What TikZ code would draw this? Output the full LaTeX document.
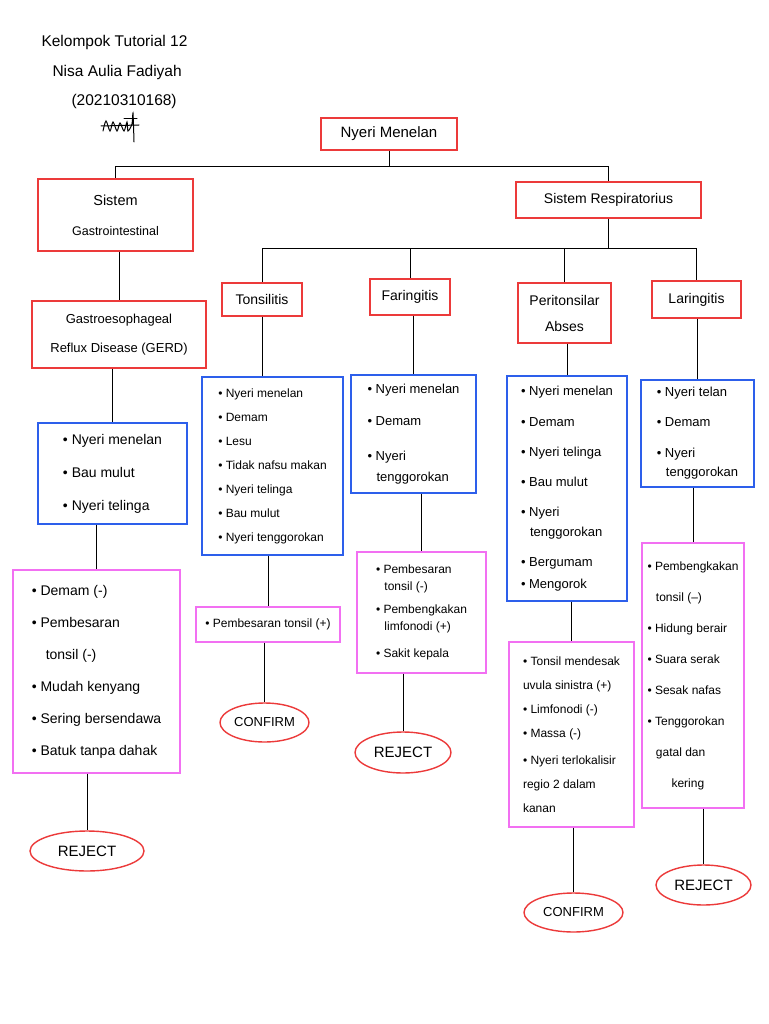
\documentclass[tikz,border=0pt]{standalone}
\usepackage{fontspec}
\setmainfont{Liberation Sans}
\usetikzlibrary{positioning,shapes.geometric}
\definecolor{BoxRed}{RGB}{236,58,58}
\definecolor{BoxBlue}{RGB}{45,95,235}
\definecolor{BoxPink}{RGB}{242,112,242}
\tikzset{
	redbox/.style={draw=BoxRed, line width=1.4pt, align=center, inner sep=1pt},
	bluebox/.style={draw=BoxBlue, line width=1.4pt, align=left, inner sep=1pt},
	pinkbox/.style={draw=BoxPink, line width=1.4pt, align=left, inner sep=1pt},
	endoval/.style={draw=BoxRed, ellipse, line width=1.4pt, inner sep=0pt},
	link/.style={line width=1pt, black},
	header/.style={anchor=west, font=\fontsize{15.5}{18}\selectfont}
}

\begin{document}
\begin{tikzpicture}[x=1pt, y=-1pt]
	\fill[white] (0,0) rectangle (768,1024);
	\useasboundingbox (0,0) rectangle (768,1024);
	
	% kepala halaman
	\node[header] (kel) at (38,42) {Kelompok Tutorial 12};
	\node[header] (nama) at (49,72) {Nisa Aulia Fadiyah};
	\node[header] (nim) at (68,101) {(20210310168)};
	\draw[line width=1pt, line cap=round] plot[smooth] coordinates {(103,131) (106,121) (110,131) (113,122) (117,131) (120,123) (124,131) (127,122) (128,131) (132,124) (133,113) (134,142)};
	\draw[line width=1pt, line cap=round] (101,126) -- (139,125);
	\draw[line width=1pt, line cap=round] (124,119) -- (137,119);
	
	% tingkat atas
	\node[redbox, minimum width=136, minimum height=32, font=\fontsize{15}{16}\selectfont] (nm) at (389,134) {Nyeri Menelan};
	\node[redbox, minimum width=155, minimum height=72, font=\fontsize{14.5}{30}\selectfont] (sg) at (115.5,215) {Sistem\\{\fontsize{12.5}{14}\selectfont Gastrointestinal}};
	\node[redbox, minimum width=185, minimum height=36, font=\fontsize{14}{16}\selectfont] (sr) at (608.5,200) {Sistem Respiratorius};
	
	% penyakit
	\node[redbox, minimum width=174, minimum height=67, font=\fontsize{13}{29}\selectfont] (gerd) at (119,334.5) {Gastroesophageal\\Reflux Disease (GERD)};
	\node[redbox, minimum width=80, minimum height=33, font=\fontsize{14}{16}\selectfont] (ton) at (262,299.5) {Tonsilitis};
	\node[redbox, minimum width=80, minimum height=36, font=\fontsize{14}{16}\selectfont] (far) at (410,297) {Faringitis};
	\node[redbox, minimum width=93, minimum height=60, font=\fontsize{14}{26}\selectfont] (per) at (564.5,313) {Peritonsilar\\Abses};
	\node[redbox, minimum width=89, minimum height=37, font=\fontsize{14}{16}\selectfont] (lar) at (696.5,299.5) {Laringitis};
	
	% gejala
	\node[bluebox, minimum width=149, minimum height=101, font=\fontsize{14}{33}\selectfont] (b1) at (112.5,473.5)
		{\textbullet\ Nyeri menelan\\\textbullet\ Bau mulut\\\textbullet\ Nyeri telinga};
	\node[bluebox, minimum width=141, minimum height=178, font=\fontsize{12}{24}\selectfont] (b2) at (272.5,466)
		{\textbullet\ Nyeri menelan\\\textbullet\ Demam\\\textbullet\ Lesu\\\textbullet\ Tidak nafsu makan\\\textbullet\ Nyeri telinga\\\textbullet\ Bau mulut\\\textbullet\ Nyeri tenggorokan};
	\node[bluebox, minimum width=125, minimum height=118, font=\fontsize{13}{21}\selectfont] (b3) at (413.5,434)
		{\textbullet\ Nyeri menelan\\[11pt]\textbullet\ Demam\\[14pt]\textbullet\ Nyeri\\\hspace*{0.7em}tenggorokan};
	\node[bluebox, minimum width=120, minimum height=225, font=\fontsize{13}{20}\selectfont] (b4) at (567,488.5)
		{\textbullet\ Nyeri menelan\\[11pt]\textbullet\ Demam\\[10pt]\textbullet\ Nyeri telinga\\[10pt]\textbullet\ Bau mulut\\[10pt]\textbullet\ Nyeri\\\hspace*{0.7em}tenggorokan\\[10pt]\textbullet\ Bergumam\\[2pt]\textbullet\ Mengorok};
	\node[bluebox, minimum width=113, minimum height=107, font=\fontsize{13}{19}\selectfont] (b5) at (697.5,433.5)
		{\textbullet\ Nyeri telan\\[11pt]\textbullet\ Demam\\[12pt]\textbullet\ Nyeri\\\hspace*{0.7em}tenggorokan};
	
	% pemeriksaan
	\node[pinkbox, minimum width=167, minimum height=203, font=\fontsize{14}{32}\selectfont] (p1) at (96.5,671.5)
		{\textbullet\ Demam (-)\\\textbullet\ Pembesaran\\\hspace*{1em}tonsil (-)\\\textbullet\ Mudah kenyang\\\textbullet\ Sering bersendawa\\\textbullet\ Batuk tanpa dahak};
	\node[pinkbox, minimum width=144, minimum height=35, font=\fontsize{12}{14}\selectfont] (p2) at (268,624.5)
		{\textbullet\ Pembesaran tonsil (+)};
	\node[pinkbox, minimum width=129, minimum height=121, font=\fontsize{12}{17}\selectfont] (p3) at (421.5,612.5)
		{\textbullet\ Pembesaran\\\hspace*{0.7em}tonsil (-)\\[6pt]\textbullet\ Pembengkakan\\\hspace*{0.7em}limfonodi (+)\\[10pt]\textbullet\ Sakit kepala};
	\node[pinkbox, minimum width=125, minimum height=185, font=\fontsize{12}{24}\selectfont] (p4) at (571.5,734.5)
		{\textbullet\ Tonsil mendesak\\uvula sinistra (+)\\\textbullet\ Limfonodi (-)\\\textbullet\ Massa (-)\\[3pt]\textbullet\ Nyeri terlokalisir\\regio 2 dalam\\kanan};
	\node[pinkbox, minimum width=102, minimum height=265, font=\fontsize{12}{31}\selectfont] (p5) at (693,675.5)
		{\textbullet\ Pembengkakan\\\hspace*{0.7em}tonsil (--)\\\textbullet\ Hidung berair\\\textbullet\ Suara serak\\\textbullet\ Sesak nafas\\\textbullet\ Tenggorokan\\\hspace*{0.7em}gatal dan\\\hspace*{2em}kering};
	
	% hasil
	\node[endoval, minimum width=114, minimum height=40, font=\fontsize{15}{16}\selectfont] (e1) at (87,851) {REJECT};
	\node[endoval, minimum width=89, minimum height=39, font=\fontsize{13}{14}\selectfont] (e2) at (264.5,722.5) {CONFIRM};
	\node[endoval, minimum width=96, minimum height=41, font=\fontsize{15}{16}\selectfont] (e3) at (403,752.5) {REJECT};
	\node[endoval, minimum width=99, minimum height=39, font=\fontsize{13}{14}\selectfont] (e4) at (573.5,912.5) {CONFIRM};
	\node[endoval, minimum width=95, minimum height=40, font=\fontsize{15}{16}\selectfont] (e5) at (703.5,885) {REJECT};
	
	% garis
	\draw[link] (nm.south) -- ++(0,16) coordinate (j1);
	\draw[link] (j1) -| (sg.north);
	\draw[link] (j1) -| (sr.north);
	\draw[link] (sr.south) -- ++(0,30) coordinate (j2);
	\foreach \d in {ton,far,per,lar}
		\draw[link] (j2) -| (\d.north);
	\foreach \a/\b in {sg/gerd,gerd/b1,b1/p1,p1/e1,b2/p2,p2/e2,far/b3,b3/p3,p3/e3,per/b4,b4/p4,p4/e4,lar/b5,b5/p5,p5/e5}
		\draw[link] (\b.north |- \a.south) -- (\b.north);
	\draw[link] (ton.south) -- (ton.south |- b2.north);
\end{tikzpicture}
\end{document}
